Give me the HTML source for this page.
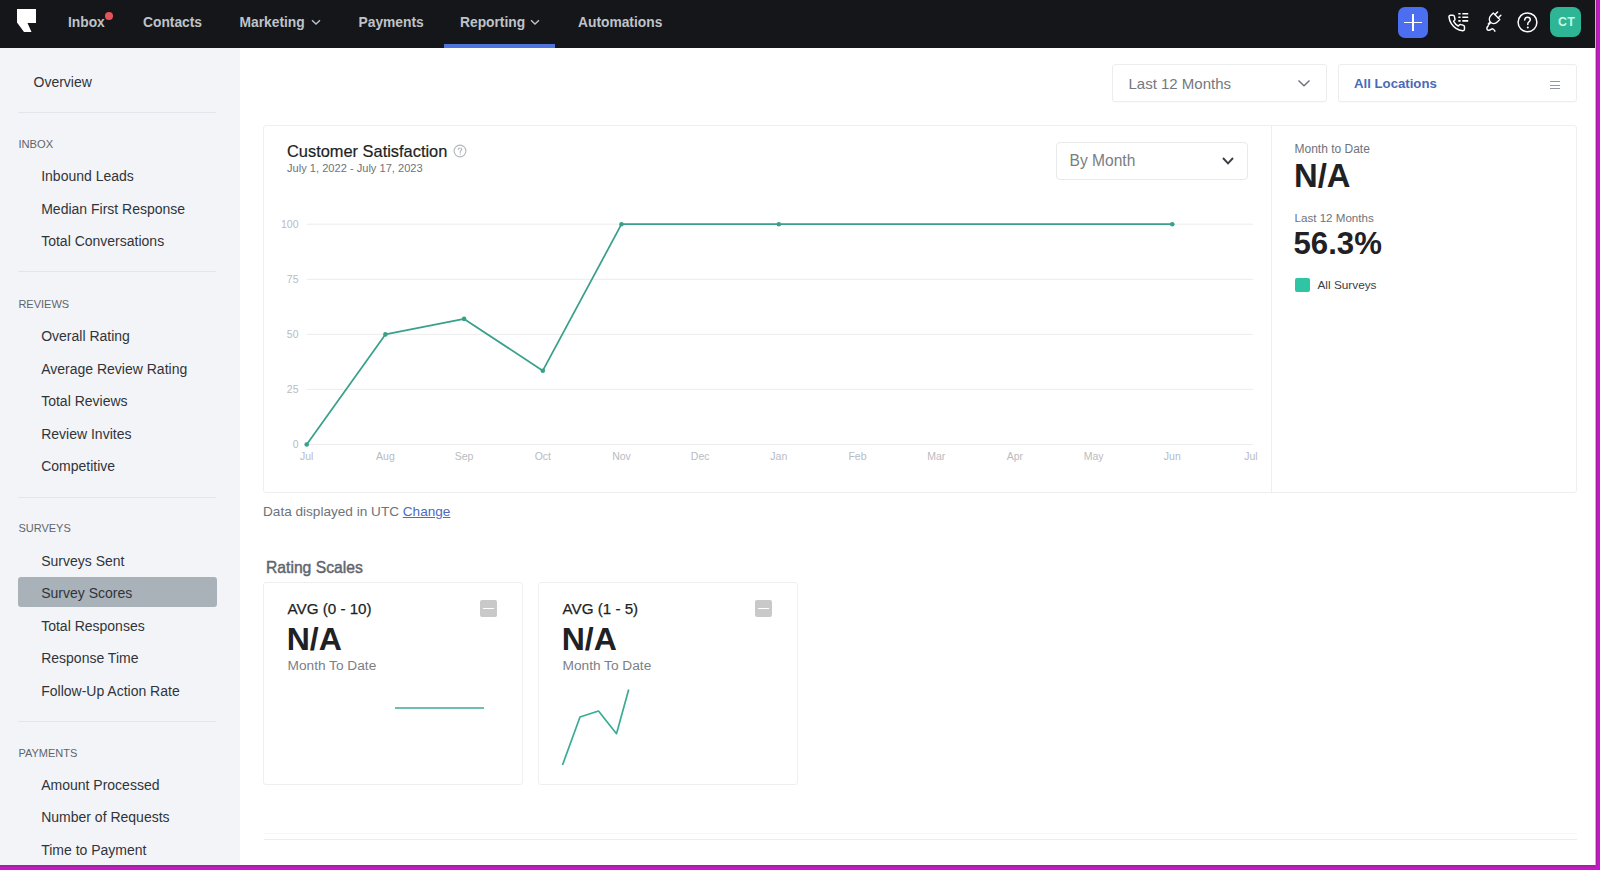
<!DOCTYPE html>
<html><head><meta charset="utf-8"><style>
html,body{margin:0;padding:0;width:1600px;height:870px;overflow:hidden;background:#fff;font-family:"Liberation Sans", sans-serif}
.a{position:absolute}
.t{position:absolute;white-space:nowrap;line-height:1;font-family:"Liberation Sans", sans-serif}
</style></head><body>
<div class="a" style="left:0px;top:0px;width:1600px;height:48px;background:#15161a"></div>
<svg class="a" style="left:0;top:0" width="60" height="48"><path d="M17 9 H36 V23 H27.5 L31.5 32 H24 L17 22.5 Z" fill="#fff"/></svg>
<div class="t " style="left:68px;top:16.42px;font-size:13.8px;color:#bfc3c9;font-weight:700;">Inbox</div>
<div class="a" style="left:105px;top:11.5px;width:8px;height:8px;background:#e5535a;border-radius:50%"></div>
<div class="t " style="left:143px;top:16.42px;font-size:13.8px;color:#bfc3c9;font-weight:700;">Contacts</div>
<div class="t " style="left:239.5px;top:16.42px;font-size:13.8px;color:#bfc3c9;font-weight:700;">Marketing</div>
<div class="t " style="left:358.5px;top:16.42px;font-size:13.8px;color:#bfc3c9;font-weight:700;">Payments</div>
<div class="t " style="left:460px;top:16.42px;font-size:13.8px;color:#bfc3c9;font-weight:700;">Reporting</div>
<div class="t " style="left:578px;top:16.42px;font-size:13.8px;color:#bfc3c9;font-weight:700;">Automations</div>
<svg class="a" style="left:311px;top:18.8px" width="10" height="7"><path d="M1 1.2 L5 5 L9 1.2" stroke="#bfc3c9" stroke-width="1.4" fill="none"/></svg>
<svg class="a" style="left:530px;top:18.8px" width="10" height="7"><path d="M1 1.2 L5 5 L9 1.2" stroke="#bfc3c9" stroke-width="1.4" fill="none"/></svg>
<div class="a" style="left:444px;top:44px;width:111px;height:4px;background:#5174dc"></div>
<div class="a" style="left:1397.5px;top:7px;width:30.5px;height:30.5px;background:#4c6ef0;border-radius:7px"></div>
<div class="a" style="left:1404px;top:21.6px;width:18px;height:1.4px;background:#fff"></div>
<div class="a" style="left:1412.3px;top:13.5px;width:1.4px;height:17px;background:#fff"></div>
<svg class="a" style="left:0;top:0" width="1600" height="48">
<g transform="translate(1447.3 13.6) scale(0.78)"><path d="M22 16.92v3a2 2 0 0 1-2.18 2 19.79 19.79 0 0 1-8.63-3.07 19.5 19.5 0 0 1-6-6 19.79 19.79 0 0 1-3.07-8.67A2 2 0 0 1 4.11 2h3a2 2 0 0 1 2 1.72 12.84 12.84 0 0 0 .7 2.81 2 2 0 0 1-.45 2.11L8.09 9.91a16 16 0 0 0 6 6l1.27-1.27a2 2 0 0 1 2.11-.45 12.84 12.84 0 0 0 2.81.7A2 2 0 0 1 22 16.92z" stroke="#fff" stroke-width="1.9" fill="none" stroke-linejoin="round"/></g>
<path d="M1458.3 13.8 H1460.6 M1462.3 13.8 H1468.2 M1458.3 17.3 H1460.6 M1462.3 17.3 H1468.2 M1458.3 20.9 H1460.6 M1462.3 20.9 H1468.2" stroke="#fff" stroke-width="1.6"/>
</svg>
<svg class="a" style="left:0;top:0" width="1600" height="48">
<g transform="translate(1492.6 20.2) rotate(45) scale(0.88)">
<path d="M-2.6 -10.6 V-6.6 M2.6 -10.6 V-6.6" stroke="#fff" stroke-width="1.7" stroke-linecap="round"/>
<path d="M-5.2 -6.3 H5.2 V-2.8 C5.2 0.9 2.8 3.3 0 3.3 C-2.8 3.3 -5.2 0.9 -5.2 -2.8 Z" stroke="#fff" stroke-width="1.5" fill="none" stroke-linejoin="round"/>
<path d="M0 3.4 V7.2" stroke="#fff" stroke-width="2.4"/>
</g>
<path d="M1488.2 25.8 C1486.2 27.4 1486.4 30.6 1489 30.3 C1490.8 30.1 1491.6 28.6 1492.8 28.9 C1493.8 29.2 1494.4 30.2 1494.9 31.2" stroke="#fff" stroke-width="1.5" fill="none" stroke-linecap="round"/>
</svg>
<svg class="a" style="left:1516px;top:11px" width="23" height="23" viewBox="0 0 23 23">
<circle cx="11.5" cy="11.3" r="9.4" stroke="#fff" stroke-width="1.5" fill="none"/>
<path d="M8.7 9 C8.7 7.2 10 6.3 11.5 6.3 C13 6.3 14.3 7.3 14.3 8.8 C14.3 10.6 11.8 10.9 11.8 12.8 V13.6" stroke="#fff" stroke-width="1.5" fill="none" stroke-linecap="round"/>
<circle cx="11.8" cy="16.4" r="1" fill="#fff"/>
</svg>
<div class="a" style="left:1550px;top:7px;width:31px;height:29.5px;background:#2db595;border-radius:8px"></div>
<div class="t " style="left:1558px;top:16.10px;font-size:12.4px;color:#c4fbe6;font-weight:700;letter-spacing:0.3px">CT</div>
<div class="a" style="left:0px;top:48px;width:240px;height:822px;background:#f3f4f8"></div>
<div class="t " style="left:33.5px;top:75.25px;font-size:14px;color:#30343a;font-weight:400;">Overview</div>
<div class="a" style="left:18px;top:112px;width:198px;height:1px;background:#e2e5eb"></div>
<div class="t " style="left:18.4px;top:139.02px;font-size:11.2px;color:#5f656d;font-weight:400;">INBOX</div>
<div class="t " style="left:41.2px;top:169.25px;font-size:14px;color:#30343a;font-weight:400;">Inbound Leads</div>
<div class="t " style="left:41.2px;top:201.75px;font-size:14px;color:#30343a;font-weight:400;">Median First Response</div>
<div class="t " style="left:41.2px;top:234.25px;font-size:14px;color:#30343a;font-weight:400;">Total Conversations</div>
<div class="a" style="left:18px;top:271px;width:198px;height:1px;background:#e2e5eb"></div>
<div class="t " style="left:18.4px;top:298.69px;font-size:11px;color:#5f656d;font-weight:400;">REVIEWS</div>
<div class="t " style="left:41.2px;top:329.35px;font-size:14px;color:#30343a;font-weight:400;">Overall Rating</div>
<div class="t " style="left:41.2px;top:361.85px;font-size:14px;color:#30343a;font-weight:400;">Average Review Rating</div>
<div class="t " style="left:41.2px;top:394.35px;font-size:14px;color:#30343a;font-weight:400;">Total Reviews</div>
<div class="t " style="left:41.2px;top:426.85px;font-size:14px;color:#30343a;font-weight:400;">Review Invites</div>
<div class="t " style="left:41.2px;top:459.35px;font-size:14px;color:#30343a;font-weight:400;">Competitive</div>
<div class="a" style="left:18px;top:497px;width:198px;height:1px;background:#e2e5eb"></div>
<div class="t " style="left:18.4px;top:523.09px;font-size:11px;color:#5f656d;font-weight:400;">SURVEYS</div>
<div class="a" style="left:18px;top:577.4px;width:198.5px;height:30px;background:#a9b1b9;border-radius:3px"></div>
<div class="t " style="left:41.2px;top:553.65px;font-size:14px;color:#30343a;font-weight:400;">Surveys Sent</div>
<div class="t " style="left:41.2px;top:586.15px;font-size:14px;color:#30343a;font-weight:400;">Survey Scores</div>
<div class="t " style="left:41.2px;top:618.65px;font-size:14px;color:#30343a;font-weight:400;">Total Responses</div>
<div class="t " style="left:41.2px;top:651.15px;font-size:14px;color:#30343a;font-weight:400;">Response Time</div>
<div class="t " style="left:41.2px;top:683.65px;font-size:14px;color:#30343a;font-weight:400;">Follow-Up Action Rate</div>
<div class="a" style="left:18px;top:721px;width:198px;height:1px;background:#e2e5eb"></div>
<div class="t " style="left:18.4px;top:747.69px;font-size:11px;color:#5f656d;font-weight:400;">PAYMENTS</div>
<div class="t " style="left:41.2px;top:777.95px;font-size:14px;color:#30343a;font-weight:400;">Amount Processed</div>
<div class="t " style="left:41.2px;top:810.45px;font-size:14px;color:#30343a;font-weight:400;">Number of Requests</div>
<div class="t " style="left:41.2px;top:842.95px;font-size:14px;color:#30343a;font-weight:400;">Time to Payment</div>
<div class="a" style="left:1112px;top:64px;width:214.5px;height:38px;border:1px solid #ebedef;border-radius:3px;box-sizing:border-box;background:#fff;box-shadow:0 1px 1px rgba(0,0,0,0.02)"></div>
<div class="t " style="left:1128.5px;top:76.00px;font-size:15px;color:#74787e;font-weight:400;">Last 12 Months</div>
<svg class="a" style="left:1297px;top:79px" width="14" height="9"><path d="M1.5 1.5 L7 6.8 L12.5 1.5" stroke="#6e7379" stroke-width="1.4" fill="none"/></svg>
<div class="a" style="left:1338px;top:64px;width:238.5px;height:38px;border:1px solid #ebedef;border-radius:3px;box-sizing:border-box;background:#fff;box-shadow:0 1px 1px rgba(0,0,0,0.02)"></div>
<div class="t " style="left:1354px;top:77.03px;font-size:13.2px;color:#4a6ab9;font-weight:700;">All Locations</div>
<div class="a" style="left:1549.5px;top:81.2px;width:10.5px;height:1.1px;background:#8f97a8"></div>
<div class="a" style="left:1549.5px;top:84.5px;width:10.5px;height:1.1px;background:#8f97a8"></div>
<div class="a" style="left:1549.5px;top:87.8px;width:10.5px;height:1.1px;background:#8f97a8"></div>
<div class="a" style="left:263px;top:125px;width:1314px;height:368px;border:1px solid #eeeeee;border-radius:3px;box-sizing:border-box"></div>
<div class="a" style="left:1270.5px;top:126px;width:1px;height:366px;background:#efefef"></div>
<div class="t " style="left:287px;top:142.82px;font-size:16.4px;color:#1d1f23;font-weight:400;-webkit-text-stroke:0.2px #1d1f23">Customer Satisfaction</div>
<svg class="a" style="left:453px;top:144px" width="14" height="14" viewBox="0 0 14 14">
<circle cx="7" cy="7" r="5.9" stroke="#b3b6bb" stroke-width="1.1" fill="none"/>
<path d="M5.3 5.6 C5.3 4.6 6.1 4 7 4 C7.9 4 8.7 4.6 8.7 5.5 C8.7 6.6 7.2 6.8 7.2 8 V8.4" stroke="#b3b6bb" stroke-width="1.1" fill="none" stroke-linecap="round"/>
<circle cx="7.2" cy="10.1" r="0.7" fill="#b3b6bb"/></svg>
<div class="t " style="left:287px;top:162.60px;font-size:11.1px;color:#6e737a;font-weight:400;">July 1, 2022 - July 17, 2023</div>
<div class="a" style="left:1056px;top:141.5px;width:191.5px;height:38px;border:1px solid #e8e9eb;border-radius:4px;box-sizing:border-box"></div>
<div class="t " style="left:1069.5px;top:153.29px;font-size:15.6px;color:#7a7d82;font-weight:400;">By Month</div>
<svg class="a" style="left:1221px;top:155.5px" width="14" height="10"><path d="M2 2 L7 7.3 L12 2" stroke="#3a3d42" stroke-width="1.9" fill="none"/></svg>
<svg class="a" style="left:0;top:0" width="1600" height="870"><line x1="306.7" x2="1253" y1="444.5" y2="444.5" stroke="#ececec" stroke-width="1"/><line x1="306.7" x2="1253" y1="389.4" y2="389.4" stroke="#ececec" stroke-width="1"/><line x1="306.7" x2="1253" y1="334.4" y2="334.4" stroke="#ececec" stroke-width="1"/><line x1="306.7" x2="1253" y1="279.3" y2="279.3" stroke="#ececec" stroke-width="1"/><line x1="306.7" x2="1253" y1="224.2" y2="224.2" stroke="#ececec" stroke-width="1"/><polyline points="306.7,444.5 385.4,334.4 464.1,318.9 542.8,370.7 621.5,224.2 778.8,224.2 1172.3,224.2" fill="none" stroke="#3aa08b" stroke-width="1.75" stroke-linejoin="round"/><circle cx="306.7" cy="444.5" r="2.3" fill="#3aa08b"/><circle cx="385.4" cy="334.4" r="2.3" fill="#3aa08b"/><circle cx="464.1" cy="318.9" r="2.3" fill="#3aa08b"/><circle cx="542.8" cy="370.7" r="2.3" fill="#3aa08b"/><circle cx="621.5" cy="224.2" r="2.3" fill="#3aa08b"/><circle cx="778.8" cy="224.2" r="2.3" fill="#3aa08b"/><circle cx="1172.3" cy="224.2" r="2.3" fill="#3aa08b"/></svg>
<div class="t" style="right:1301.5px;top:439.0px;font-size:10.5px;line-height:11px;color:#b8bbbf">0</div>
<div class="t" style="right:1301.5px;top:383.9px;font-size:10.5px;line-height:11px;color:#b8bbbf">25</div>
<div class="t" style="right:1301.5px;top:328.9px;font-size:10.5px;line-height:11px;color:#b8bbbf">50</div>
<div class="t" style="right:1301.5px;top:273.8px;font-size:10.5px;line-height:11px;color:#b8bbbf">75</div>
<div class="t" style="right:1301.5px;top:218.7px;font-size:10.5px;line-height:11px;color:#b8bbbf">100</div>
<div class="t" style="left:276.7px;width:60px;text-align:center;top:450.5px;font-size:10.5px;line-height:11px;color:#b8bbbf">Jul</div>
<div class="t" style="left:355.4px;width:60px;text-align:center;top:450.5px;font-size:10.5px;line-height:11px;color:#b8bbbf">Aug</div>
<div class="t" style="left:434.1px;width:60px;text-align:center;top:450.5px;font-size:10.5px;line-height:11px;color:#b8bbbf">Sep</div>
<div class="t" style="left:512.8px;width:60px;text-align:center;top:450.5px;font-size:10.5px;line-height:11px;color:#b8bbbf">Oct</div>
<div class="t" style="left:591.5px;width:60px;text-align:center;top:450.5px;font-size:10.5px;line-height:11px;color:#b8bbbf">Nov</div>
<div class="t" style="left:670.2px;width:60px;text-align:center;top:450.5px;font-size:10.5px;line-height:11px;color:#b8bbbf">Dec</div>
<div class="t" style="left:748.8px;width:60px;text-align:center;top:450.5px;font-size:10.5px;line-height:11px;color:#b8bbbf">Jan</div>
<div class="t" style="left:827.5px;width:60px;text-align:center;top:450.5px;font-size:10.5px;line-height:11px;color:#b8bbbf">Feb</div>
<div class="t" style="left:906.2px;width:60px;text-align:center;top:450.5px;font-size:10.5px;line-height:11px;color:#b8bbbf">Mar</div>
<div class="t" style="left:984.9px;width:60px;text-align:center;top:450.5px;font-size:10.5px;line-height:11px;color:#b8bbbf">Apr</div>
<div class="t" style="left:1063.6px;width:60px;text-align:center;top:450.5px;font-size:10.5px;line-height:11px;color:#b8bbbf">May</div>
<div class="t" style="left:1142.3px;width:60px;text-align:center;top:450.5px;font-size:10.5px;line-height:11px;color:#b8bbbf">Jun</div>
<div class="t" style="left:1221.0px;width:60px;text-align:center;top:450.5px;font-size:10.5px;line-height:11px;color:#b8bbbf">Jul</div>
<div class="t " style="left:1294.5px;top:143.44px;font-size:12px;color:#6e737a;font-weight:400;">Month to Date</div>
<div class="t " style="left:1294px;top:159.83px;font-size:32.8px;color:#1f2124;font-weight:700;">N/A</div>
<div class="t " style="left:1294.5px;top:211.68px;font-size:11.6px;color:#6e737a;font-weight:400;">Last 12 Months</div>
<div class="t " style="left:1293.5px;top:228.39px;font-size:31.2px;color:#1f2124;font-weight:700;">56.3%</div>
<div class="a" style="left:1294.5px;top:277.5px;width:15px;height:14.5px;background:#2ec4a4;border-radius:2px"></div>
<div class="t " style="left:1317.5px;top:279.81px;font-size:11.8px;color:#3a3e44;font-weight:400;">All Surveys</div>
<div class="t" style="left:263px;top:504.79px;font-size:13.6px;color:#6e737a">Data displayed in UTC <span style="color:#4b6cc0;text-decoration:underline">Change</span></div>
<div class="t " style="left:266px;top:559.71px;font-size:15.7px;color:#5f6670;font-weight:400;-webkit-text-stroke:0.45px #5f6670">Rating Scales</div>
<div class="a" style="left:263px;top:582px;width:259.5px;height:203px;border:1px solid #efefef;border-radius:3px;box-sizing:border-box"></div>
<div class="t " style="left:287.5px;top:600.93px;font-size:15.2px;color:#1d1f23;font-weight:400;-webkit-text-stroke:0.25px #1d1f23">AVG (0 - 10)</div>
<div class="a" style="left:480px;top:600px;width:17px;height:17px;background:#c9c9c9;border-radius:2px"></div>
<div class="a" style="left:483px;top:607.8px;width:11px;height:1.5px;background:#fff"></div>
<div class="t " style="left:286.7px;top:623.11px;font-size:32px;color:#1f2124;font-weight:700;">N/A</div>
<div class="t " style="left:287.5px;top:659.40px;font-size:13.7px;color:#7b8087;font-weight:400;">Month To Date</div>
<svg class="a" style="left:0;top:0" width="1600" height="870"><path d="M395 708 H484" stroke="#3aab94" stroke-width="1.7" fill="none" stroke-linejoin="round"/></svg>
<div class="a" style="left:538px;top:582px;width:259.5px;height:203px;border:1px solid #efefef;border-radius:3px;box-sizing:border-box"></div>
<div class="t " style="left:562.5px;top:600.93px;font-size:15.2px;color:#1d1f23;font-weight:400;-webkit-text-stroke:0.25px #1d1f23">AVG (1 - 5)</div>
<div class="a" style="left:755px;top:600px;width:17px;height:17px;background:#c9c9c9;border-radius:2px"></div>
<div class="a" style="left:758px;top:607.8px;width:11px;height:1.5px;background:#fff"></div>
<div class="t " style="left:561.7px;top:623.11px;font-size:32px;color:#1f2124;font-weight:700;">N/A</div>
<div class="t " style="left:562.5px;top:659.40px;font-size:13.7px;color:#7b8087;font-weight:400;">Month To Date</div>
<svg class="a" style="left:0;top:0" width="1600" height="870"><path d="M562.5 765 L580 717 L598.5 711 L616.5 733.7 L628.7 689.6" stroke="#3aab94" stroke-width="1.7" fill="none" stroke-linejoin="round"/></svg>
<div class="a" style="left:264px;top:833px;width:1313px;height:1px;background:#f7f7f7"></div>
<div class="a" style="left:264px;top:839px;width:1313px;height:1px;background:#ededed"></div>
<div class="a" style="left:1595px;top:0px;width:5px;height:870px;background:linear-gradient(to right,#d9a6dc 0,#d9a6dc 1px,#a51ca2 1px,#a51ca2 2px,#c417c7 2px)"></div>
<div class="a" style="left:0px;top:865px;width:1600px;height:5px;background:linear-gradient(to bottom,#a81fa6 0,#a81fa6 2px,#c914cd 2px)"></div>
<div class="a" style="left:1595px;top:865px;width:5px;height:5px;background:#c914cd"></div>
</body></html>
